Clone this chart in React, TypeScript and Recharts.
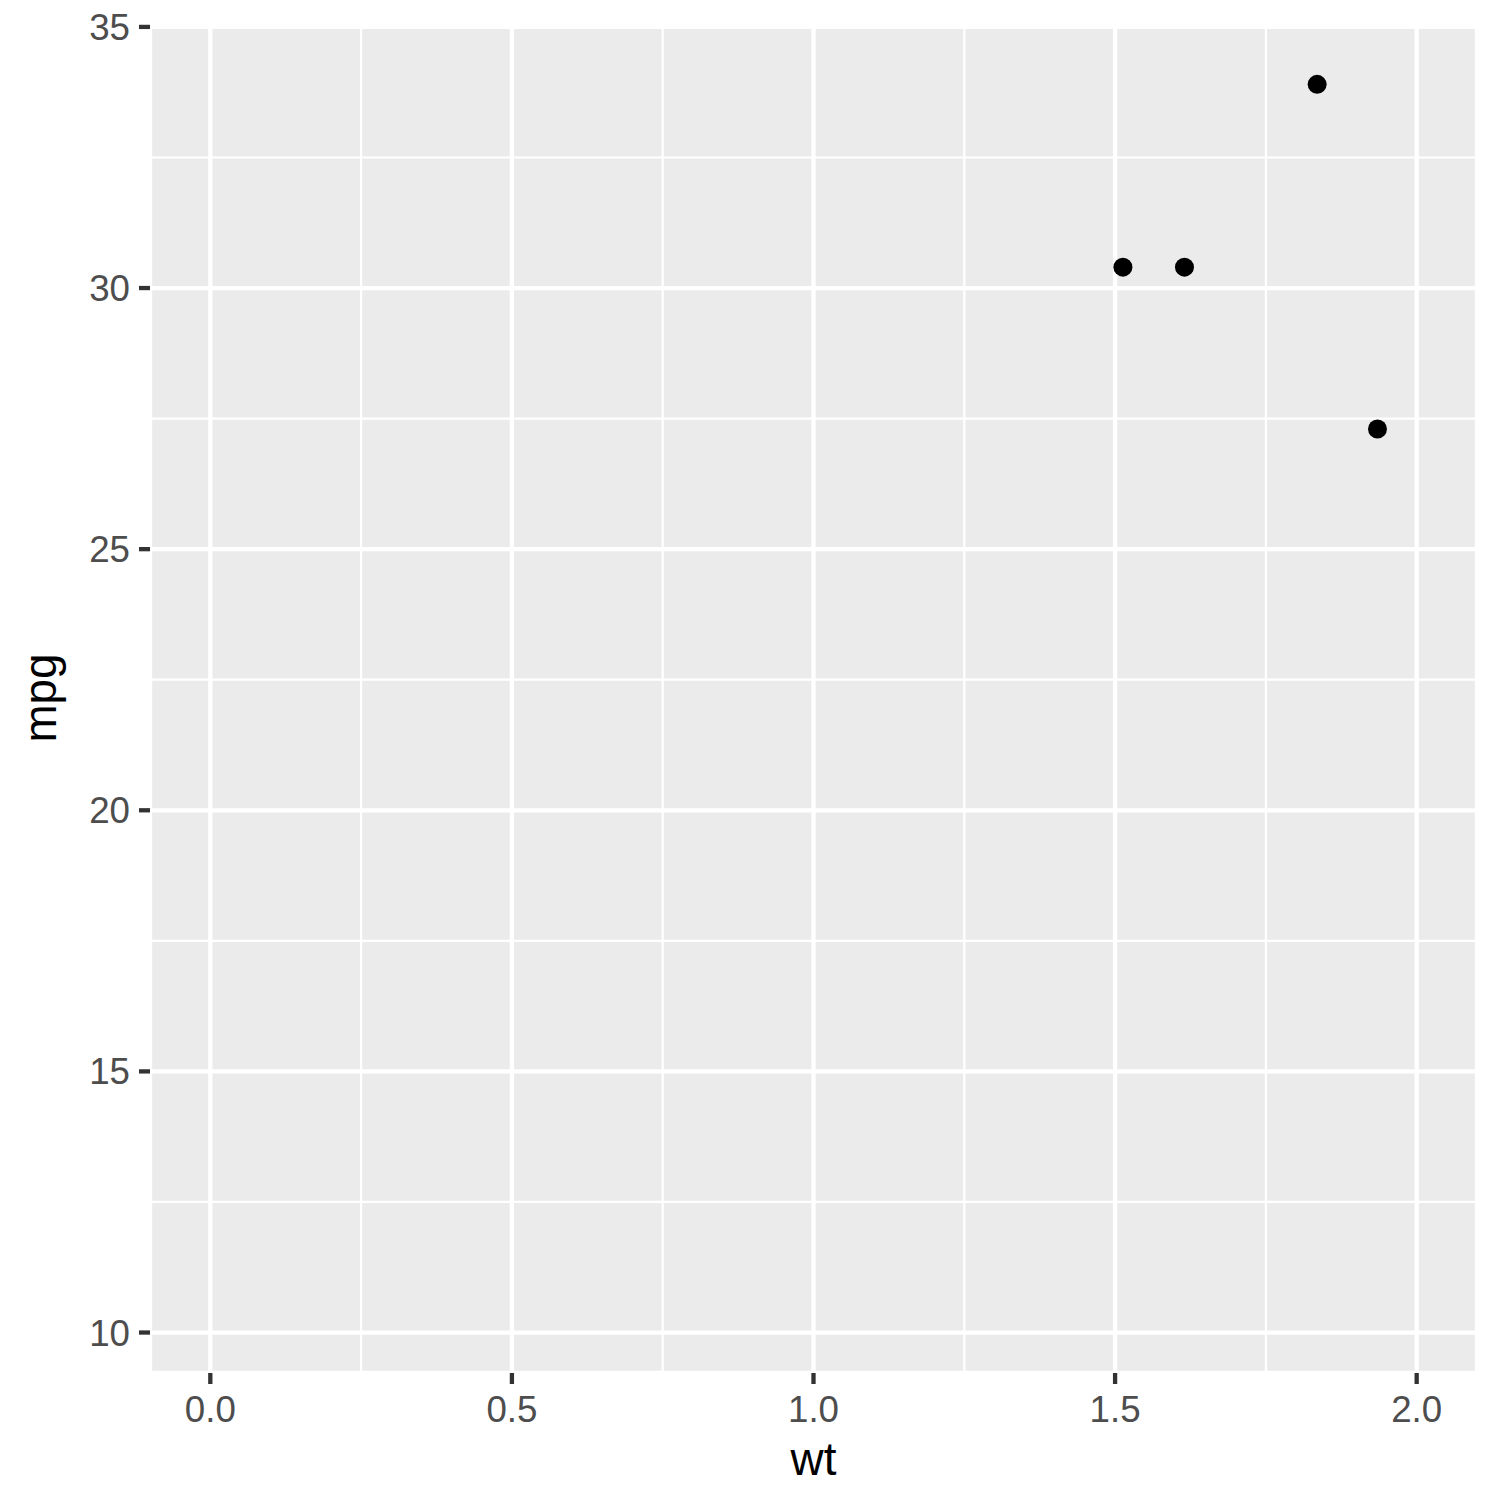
import React from 'react';
import { ScatterChart, Scatter, XAxis, YAxis, CartesianGrid, ReferenceLine, Label } from 'recharts';

const wtValues = [1.513, 1.615, 1.835, 1.935];
const mpgValues = [30.4, 30.4, 33.9, 27.3];
const xTicks = [0, 0.5, 1, 1.5, 2];
const yTicks = [10, 15, 20, 25, 30, 35];
const xMinor = [0.25, 0.75, 1.25, 1.75];
const yMinor = [12.5, 17.5, 22.5, 27.5, 32.5];
const xDomain = [-0.1, 2.1];
const yDomain = [9.225, 35.075];

const data = wtValues.map((wt, i) => ({ wt, mpg: mpgValues[i] }));

const FONT = '"Liberation Sans", Arial, Helvetica, sans-serif';

const Dot = (props: any) => <circle cx={props.cx} cy={props.cy} r={9.5} fill="#000000" />;

const YTitle = (props: any) => {
  const vb = props.viewBox || {};
  const cy = vb.y + vb.height / 2;
  const x = 56;
  return (
    <text
      x={x}
      y={cy}
      transform={`rotate(-90, ${x}, ${cy})`}
      textAnchor="middle"
      fontFamily={FONT}
      fontSize={45.8}
      fill="#000000"
    >
      mpg
    </text>
  );
};

export default function App() {
  return (
    <div style={{ position: 'absolute', left: 0, top: 0, width: 1500, height: 1500, background: '#ffffff' }}>
      <ScatterChart width={1500} height={1500} margin={{ top: 23, right: 23, bottom: 0, left: 0 }}>
        <CartesianGrid fill="#EBEBEB" fillOpacity={1} stroke="#FFFFFF" strokeWidth={4.3} />
        {xMinor.map((v) => (
          <ReferenceLine key={'xm' + v} x={v} stroke="#FFFFFF" strokeWidth={2.2} />
        ))}
        {yMinor.map((v) => (
          <ReferenceLine key={'ym' + v} y={v} stroke="#FFFFFF" strokeWidth={2.2} />
        ))}
        <XAxis
          type="number"
          dataKey="wt"
          domain={xDomain}
          ticks={xTicks}
          allowDataOverflow
          height={127}
          axisLine={false}
          tickSize={11}
          tickMargin={12}
          tickLine={{ stroke: '#333333', strokeWidth: 4.3 }}
          tick={{ fill: '#4D4D4D', fontSize: 36.7, fontFamily: FONT }}
          tickFormatter={(v: number) => v.toFixed(1)}
        >
          <Label value="wt" position="insideBottom" offset={25} fill="#000000" fontSize={45.8} fontFamily={FONT} />
        </XAxis>
        <YAxis
          type="number"
          dataKey="mpg"
          domain={yDomain}
          ticks={yTicks}
          allowDataOverflow
          width={150}
          axisLine={false}
          tickSize={11}
          tickMargin={9}
          tickLine={{ stroke: '#333333', strokeWidth: 4.3 }}
          tick={{ fill: '#4D4D4D', fontSize: 36.7, fontFamily: FONT }}
        >
          <Label content={<YTitle />} />
        </YAxis>
        <Scatter data={data} shape={<Dot />} isAnimationActive={false} />
      </ScatterChart>
    </div>
  );
}
